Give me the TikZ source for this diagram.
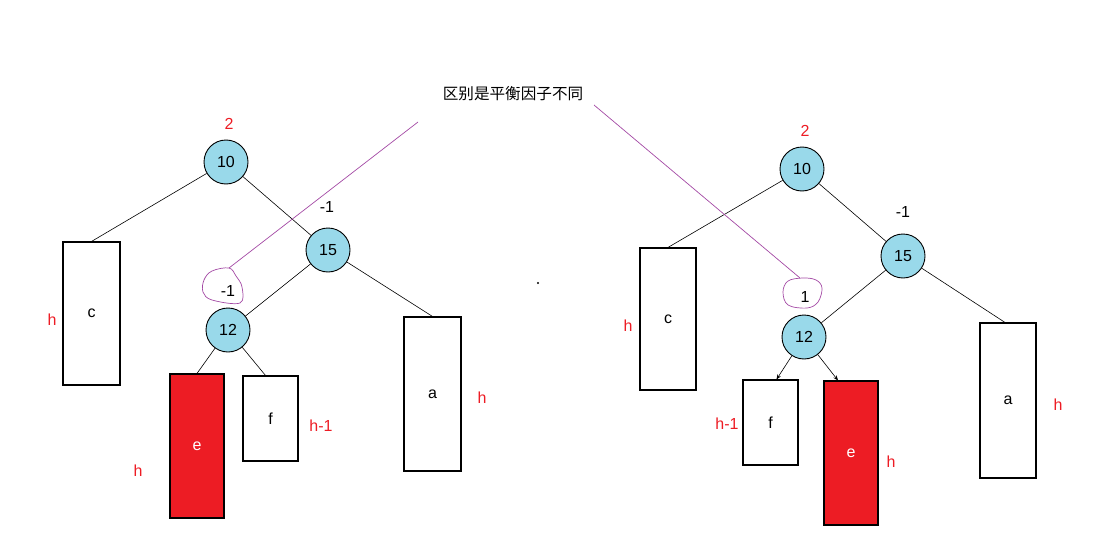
\documentclass[tikz,border=0pt]{standalone}
\usepackage{fontspec}
\setmainfont{Liberation Sans}
\newfontfamily\cjk{Noto Sans CJK SC}
\usepackage{xcolor}
\usetikzlibrary{arrows.meta}
\definecolor{nodeblue}{HTML}{99D9EA}
\definecolor{paintred}{HTML}{ED1C24}
\definecolor{notepurple}{HTML}{A349A4}
\tikzstyle{key}     = [circle, draw=black, line width=0.9pt, fill=nodeblue,
                       minimum size=44pt, inner sep=0pt, font=\fontsize{16}{16}\selectfont]
\tikzstyle{subtree} = [rectangle, draw=black, line width=1.1pt, fill=white,
                       inner sep=0pt, font=\fontsize{16}{16}\selectfont]
\tikzstyle{heavy}   = [subtree, fill=paintred, text=white]
\tikzstyle{height}  = [text=paintred, font=\fontsize{16}{16}\selectfont]
\tikzstyle{bf}      = [font=\fontsize{16}{16}\selectfont]
\tikzstyle{edge}    = [line width=0.6pt]
\tikzstyle{arrow}   = [edge, -{Stealth[length=5pt,width=4pt]}]
\tikzstyle{note}    = [notepurple, line width=0.7pt]

\begin{document}
\begin{tikzpicture}[x=1pt, y=-1pt]
  \useasboundingbox (0,0) rectangle (1103,543);

  \node[font=\cjk\fontsize{15.6}{16}\selectfont] (title) at (513,94) {区别是平衡因子不同};

  % left tree
  \node[key] (t10) at (226,162) {10};
  \node[key] (t15) at (328,250) {15};
  \node[key] (t12) at (228,330) {12};
  \node[height] at (229,124) {2};
  \node[bf]     at (327,207) {-1};
  \node[bf] (bfl) at (228,291) {-1};

  \node[subtree, minimum width=57pt, minimum height=143pt] (c) at (91.5,313.5) {c};
  \node[heavy,   minimum width=54pt, minimum height=144pt] (e) at (197,446) {e};
  \node[subtree, minimum width=55pt, minimum height=85pt]  (f) at (270.5,418.5) {f};
  \node[subtree, minimum width=57pt, minimum height=154pt] (a) at (432.5,394) {a};
  \node[height] at (52,320)  {h};
  \node[height] at (138,471) {h};
  \node[height] at (321,426) {h-1};
  \node[height] at (482,398) {h};

  \draw[edge] (t10) -- (c.north);
  \draw[edge] (t10) -- (t15);
  \draw[edge] (t15) -- (t12);
  \draw[edge] (t15) -- (a.north);
  \draw[edge] (t12) -- (e.north);
  \draw[edge] (t12) -- ([xshift=-5pt]f.north);

  % right tree
  \node[key] (r10) at (802,169) {10};
  \node[key] (r15) at (903,256) {15};
  \node[key] (r12) at (804,337) {12};
  \node[height] at (805,131) {2};
  \node[bf]     at (903,212) {-1};
  \node[bf] (bfr) at (805,297) {1};

  \node[subtree, minimum width=56pt, minimum height=142pt] (cR) at (668,319) {c};
  \node[subtree, minimum width=55pt, minimum height=85pt]  (fR) at (770.5,422.5) {f};
  \node[heavy,   minimum width=54pt, minimum height=144pt] (eR) at (851,453) {e};
  \node[subtree, minimum width=56pt, minimum height=155pt] (aR) at (1008,400.5) {a};
  \node[height] at (628,326)  {h};
  \node[height] at (727,424)  {h-1};
  \node[height] at (891,462)  {h};
  \node[height] at (1058,405) {h};

  \draw[edge]  (r10) -- (cR.north);
  \draw[edge]  (r10) -- (r15);
  \draw[edge]  (r15) -- (r12);
  \draw[edge]  (r15) -- ([xshift=-3pt]aR.north);
  \draw[arrow] (r12) -- ([xshift=6pt]fR.north);
  \draw[arrow] (r12) -- ([xshift=-13pt]eR.north);

  % remarks
  \coordinate (tipl) at (229,268);
  \coordinate (tipr) at (800,278);
  \draw[note] (418,122) -- (tipl);
  \draw[note] (594,105) -- (tipr);
  \draw[note] plot[smooth cycle, tension=0.6] coordinates
    {(229,268) (212,271) (204,280) (203,292) (212,300) (240,303) (242,287) (236,276)};
  \draw[note] plot[smooth cycle, tension=0.6] coordinates
    {(803,278) (788,281) (783,292) (788,305) (807,308) (818,302) (822,288) (816,280)};

  \fill (538,283) circle (1.2pt);
\end{tikzpicture}
\end{document}
